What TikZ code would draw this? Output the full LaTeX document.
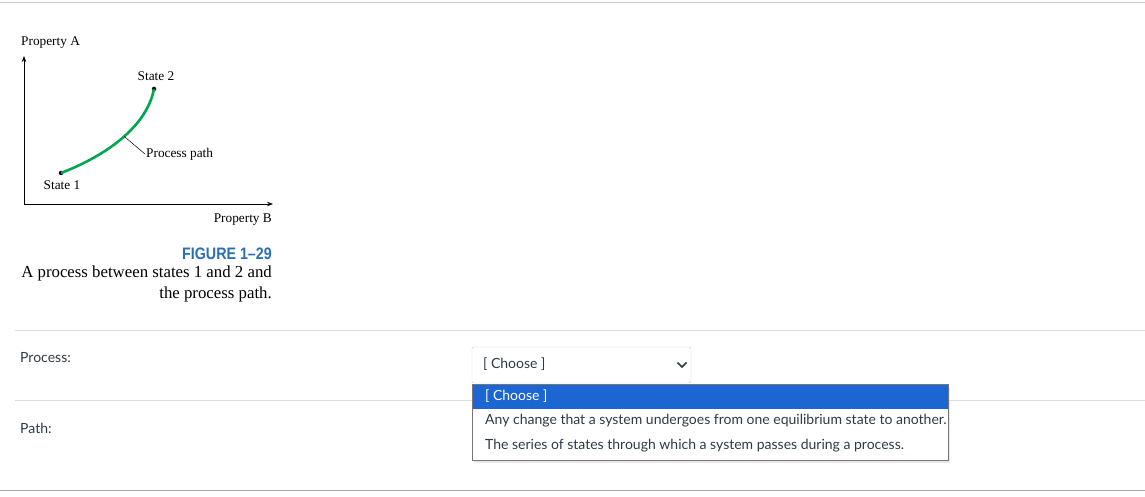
\documentclass[tikz,border=0pt]{standalone}
\usepackage{fontspec}
\setmainfont{Liberation Serif}
\newfontfamily\uifont{Lato}
\newfontfamily\figfont[FakeStretch=0.86]{Liberation Sans}
\usetikzlibrary{arrows.meta,shadows}

\definecolor{uitext}{HTML}{2D3B45}
\definecolor{rulegray}{HTML}{DDDDDD}
\definecolor{edgegray}{HTML}{AAAAAA}
\definecolor{boxgray}{HTML}{C7CDD1}
\definecolor{listgray}{HTML}{767676}
\definecolor{pickblue}{HTML}{1B66D3}
\definecolor{figblue}{HTML}{2A6EBB}
\definecolor{pathgreen}{HTML}{00A651}

\tikzset{
  dot/.style = {circle, fill, inner sep=0pt, minimum size=4.5pt},
  smalllabel/.style = {font=\fontsize{13.3}{15}\selectfont, inner sep=1pt},
  uilabel/.style = {font=\uifont\fontsize{14}{16}\selectfont, text=uitext, inner sep=0pt},
  axis/.style = {line width=0.8pt, -{Stealth[length=6pt,width=4.5pt]}}
}

\begin{document}
\begin{tikzpicture}[x=1pt,y=-1pt]
\useasboundingbox (0,0) rectangle (1145,497);
%Page rules
\draw[boxgray] (0,2.5) -- (1145,2.5);
\draw[rulegray, line width=1pt] (15,330) -- (1145,330);
\draw[rulegray, line width=1pt] (15,400) -- (1145,400);
\draw[edgegray, line width=1pt] (0,490) -- (1145,490);
%Axes
\coordinate (o) at (24,204);
\coordinate (ya) at (24,56);
\coordinate (xb) at (273,204);
\draw[axis] (o) -- (ya);
\draw[axis] (o) -- (xb);
\node[smalllabel, anchor = west] (propa) at (20,43) {Property A};
\node[smalllabel, anchor = east] (propb) at (273,220) {Property B};
%States
\node[dot] (s1) at (61,173) {};
\node[dot] (s2) at (154,89) {};
\node[smalllabel] (s1lab) at (62,185) {State 1};
\node[smalllabel] (s2lab) at (156,76) {State 2};
%Process path
\draw[pathgreen, line width=2.6pt] (s1.center) .. controls (100,158) and (146,130) .. (s2.center)
coordinate[pos = 0.55] (onpath);
\node[smalllabel, anchor = west] (pathlab) at (145,154) {Process path};
\draw[line width=0.5pt] (onpath) -- (pathlab.west);
%Caption
\node[anchor = east, inner sep=0pt, text=figblue, font=\figfont\bfseries\fontsize{16.6}{18}\selectfont] (fig) at (272,253.5) {FIGURE 1–29};
\node[anchor = north east, inner sep=0pt, align=right, font=\fontsize{16.8}{21}\selectfont] (cap) at (272,266) {A process between states 1 and 2 and\\the process path.};
%Questions
\node[uilabel, anchor = west] (qproc) at (20,358) {Process:};
\node[uilabel, anchor = west] (qpath) at (20,428) {Path:};
%Select box
\draw[boxgray, rounded corners=2pt, fill=white] (472,347) rectangle (691,383);
\node[uilabel, anchor = west] (sel) at (483,364) {[ Choose ]};
\draw[uitext, line width=1.6pt] (677.5,362.5) -- (682,367) -- (686.5,362.5);
%Drop-down list
\fill[white, drop shadow={opacity=0.18, shadow xshift=1.5pt, shadow yshift=-2.5pt}] (472,384) rectangle (948,460);
\fill[pickblue] (472,384) rectangle (948,409);
\draw[listgray, line width=1pt] (472,384) rectangle (948,460);
\node[uilabel, anchor = west, text=white] (opt0) at (485,396) {[ Choose ]};
\node[uilabel, anchor = west] (opt1) at (485,421) {Any change that a system undergoes from one equilibrium state to another.};
\node[uilabel, anchor = west] (opt2) at (485,446) {The series of states through which a system passes during a process.};
\end{tikzpicture}
\end{document}
